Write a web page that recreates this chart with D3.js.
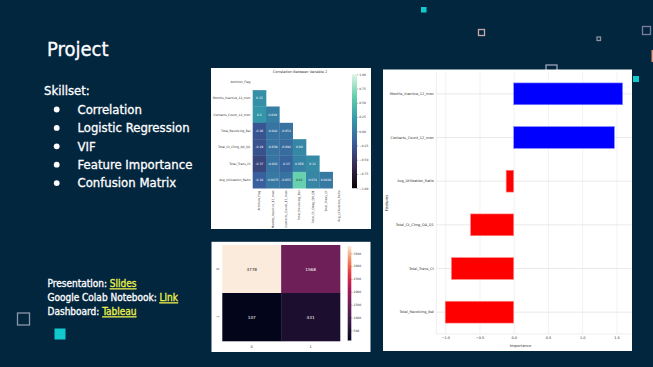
<!DOCTYPE html>
<html>
<head>
<meta charset="utf-8">
<script src="https://cdn.jsdelivr.net/npm/d3@7"></script>
<style>
body{margin:0;background:#03263f;overflow:hidden}
text{font-family:"DejaVu Sans",sans-serif}
.slide{font-family:"DejaVu Sans Condensed","Liberation Sans Narrow",sans-serif;fill:#fff;stroke:#fff;stroke-width:0.3}
.slide tspan.link{fill:#eef24a;stroke:#eef24a}
</style>
</head>
<body>
<div id="container"></div>
<script>
// slide text
const skills = ["Correlation","Logistic Regression","VIF","Feature Importance","Confusion Matrix"];
const linkLabels = ["Presentation: ","Google Colab Notebook: ","Dashboard: "];
const linkTexts = ["Slides","Link","Tableau"];

// correlation heatmap (lower triangle, row i has i values)
const corrVars = ["Attrition_Flag","Months_Inactive_12_mon","Contacts_Count_12_mon","Total_Revolving_Bal","Total_Ct_Chng_Q4_Q1","Total_Trans_Ct","Avg_Utilization_Ratio"];
const corrRows = [
  [],
  [0.15],
  [0.2,0.029],
  [-0.26,-0.042,-0.054],
  [-0.29,-0.039,-0.094,0.09],
  [-0.37,-0.043,-0.15,0.056,0.11],
  [-0.18,-0.0075,-0.055,0.62,0.074,0.0028]
];
const corrTicks = [1,0.75,0.5,0.25,0,-0.25,-0.5,-0.75,-1];

// confusion matrix
const cmLabels = ["0","1"];
const cmValues = [[3778,1568],[107,431]];
const cmTicks = [500,1000,1500,2000,2500,3000,3500];

// feature importance (bottom to top)
const features = ["Total_Revolving_Bal","Total_Trans_Ct","Total_Ct_Chng_Q4_Q1","Avg_Utilization_Ratio","Contacts_Count_12_mon","Months_Inactive_12_mon"];
const importance = [-1.0,-0.91,-0.63,-0.11,1.47,1.59];
const impTicks = [-1,-0.5,0,0.5,1,1.5];

const w = 653;
const h = 367;

var svg = d3.select("#container")
            .append("svg")
            .attr("width", w)
            .attr("height", h);

svg.append("rect").attr("width", w).attr("height", h).attr("fill", "#03263f");

// background decoration squares
const decor = [
  {x:421,y:7,s:5.5,fill:"#12c9cc"},
  {x:478.5,y:29.5,s:6,stroke:"#c9aaa6"},
  {x:597,y:37,s:3.5,stroke:"#8d8f9c"},
  {x:642.5,y:26.5,s:8,stroke:"#7b7f9c"},
  {x:546,y:65,s:11,stroke:"#9aa3b8"},
  {x:633,y:76,s:6,fill:"#12c9cc"},
  {x:17.5,y:313,s:12,stroke:"#8a96ab"},
  {x:54.5,y:328.5,s:11,fill:"#12c9cc"}
];
svg.selectAll("rect.decor")
   .data(decor)
   .enter()
   .append("rect")
   .attr("class","decor")
   .attr("x",d=>d.x).attr("y",d=>d.y)
   .attr("width",d=>d.s).attr("height",d=>d.s)
   .attr("fill",d=>d.fill||"none")
   .attr("stroke",d=>d.stroke||"none")
   .attr("stroke-width",1.3);
svg.append("rect").attr("x",651.5).attr("y",50).attr("width",2).attr("height",12).attr("fill","#e39c7d");

// left text block
svg.append("text").attr("class","slide").attr("x",47).attr("y",55.5)
   .attr("font-size",20).text("Project");
svg.append("text").attr("class","slide").attr("x",44).attr("y",94.5)
   .attr("font-size",13).text("Skillset:");

const skillY = d3.scalePoint().domain(skills).range([113.7,187.3]);
svg.selectAll("circle.bullet")
   .data(skills)
   .enter()
   .append("circle")
   .attr("cx",56.7)
   .attr("cy",d=>skillY(d)-4.2)
   .attr("r",2.9)
   .attr("fill","#fff");
svg.selectAll("text.skill")
   .data(skills)
   .enter()
   .append("text")
   .attr("class","slide skill")
   .attr("x",77.5)
   .attr("y",d=>skillY(d))
   .attr("font-size",13)
   .text(d=>d);

const linkY = d3.scalePoint().domain(linkLabels).range([287.3,315.3]);
linkLabels.forEach(function(l,i){
  var t = svg.append("text").attr("class","slide").attr("x",47.5).attr("y",linkY(l)).attr("font-size",10).attr("stroke-width",0.2);
  t.append("tspan").text(l);
  t.append("tspan").attr("class","link").attr("text-decoration","underline").text(linkTexts[i]);
});

// ---------- correlation heatmap ----------
svg.append("rect").attr("x",211).attr("y",68).attr("width",160).attr("height",161).attr("fill","#fff");

const mako = d3.scaleLinear()
               .domain([-1,-0.6,-0.2,0.2,0.6,1])
               .range(["#0b0405","#382a54","#395d9c","#3497a9","#60ceac","#def5e5"]);

const cx = d3.scaleBand().domain(corrVars).range([252.7,346]);
const cy = d3.scaleBand().domain(corrVars).range([73.8,188.2]);

var corrCells = [];
corrRows.forEach(function(r,i){ r.forEach(function(v,j){ corrCells.push({row:corrVars[i],col:corrVars[j],v:v}); }); });

svg.selectAll("rect.corr")
   .data(corrCells)
   .enter()
   .append("rect")
   .attr("class","corr")
   .attr("x",d=>cx(d.col))
   .attr("y",d=>cy(d.row))
   .attr("width",cx.bandwidth()+0.3)
   .attr("height",cy.bandwidth()+0.3)
   .attr("fill",d=>mako(d.v));

const fmtCorr = d3.format(".2~g");
svg.selectAll("text.corrv")
   .data(corrCells)
   .enter()
   .append("text")
   .attr("class","corrv")
   .attr("x",d=>cx(d.col)+cx.bandwidth()/2)
   .attr("y",d=>cy(d.row)+cy.bandwidth()/2+1)
   .attr("text-anchor","middle")
   .attr("font-size",3)
   .attr("fill",d=>d.v>0.5?"#262626":"#fff")
   .text(d=>fmtCorr(d.v).replace("−","-"));

svg.selectAll("text.corrrow")
   .data(corrVars)
   .enter()
   .append("text")
   .attr("class","corrrow")
   .attr("x",250.5)
   .attr("y",d=>cy(d)+cy.bandwidth()/2+1)
   .attr("text-anchor","end")
   .attr("font-size",3)
   .attr("fill","#333")
   .text(d=>d);

svg.selectAll("text.corrcol")
   .data(corrVars)
   .enter()
   .append("text")
   .attr("class","corrcol")
   .attr("transform",d=>"translate("+(cx(d)+cx.bandwidth()/2+1)+",190.5) rotate(-90)")
   .attr("text-anchor","end")
   .attr("font-size",3)
   .attr("fill","#333")
   .text(d=>d);

svg.append("text").attr("x",300).attr("y",73).attr("text-anchor","middle")
   .attr("font-size",3.5).attr("fill","#333").text("Correlation Between Variable 2");

// colorbar
var defs = svg.append("defs");
var g1 = defs.append("linearGradient").attr("id","makoGrad").attr("x1",0).attr("x2",0).attr("y1",1).attr("y2",0);
d3.range(0,1.001,0.05).forEach(function(t){
  g1.append("stop").attr("offset",t).attr("stop-color",mako(-1+2*t));
});
const cbY = d3.scaleLinear().domain([-1,1]).range([188.2,74.3]);
svg.append("rect").attr("x",352).attr("y",74.3).attr("width",5).attr("height",113.9).attr("fill","url(#makoGrad)");
svg.append("g")
   .attr("transform","translate(357,0)")
   .call(d3.axisRight(cbY).tickValues(corrTicks).tickFormat(d3.format(".2f")).tickSize(1.2).tickPadding(1))
   .call(g=>g.select(".domain").remove())
   .call(g=>g.selectAll("line").attr("stroke","#333").attr("stroke-width",0.4))
   .call(g=>g.selectAll("text").attr("font-size",3).attr("fill","#333").attr("font-family","DejaVu Sans"));

// ---------- confusion matrix ----------
svg.append("rect").attr("x",211.5).attr("y",241.8).attr("width",159).attr("height",110.2).attr("fill","#fff");

const cmMin = d3.min(cmValues.flat());
const cmMax = d3.max(cmValues.flat());
const rocketT = d3.scaleLinear()
                  .domain([0,0.2,0.4,0.55,0.7,0.82,0.92,1])
                  .range(["#03051a","#3b1a48","#701f57","#ad1759","#e13342","#f37651","#f6b48f","#faebdd"]);
const rocket = v=>rocketT((v-cmMin)/(cmMax-cmMin));

const mx = d3.scaleBand().domain(cmLabels).range([222.3,340]);
const my = d3.scaleBand().domain(cmLabels).range([245,341]);

var cmCells = [];
cmValues.forEach(function(r,i){ r.forEach(function(v,j){ cmCells.push({row:cmLabels[i],col:cmLabels[j],v:v}); }); });

svg.selectAll("rect.cm")
   .data(cmCells)
   .enter()
   .append("rect")
   .attr("class","cm")
   .attr("x",d=>mx(d.col))
   .attr("y",d=>my(d.row))
   .attr("width",mx.bandwidth()+0.3)
   .attr("height",my.bandwidth()+0.3)
   .attr("fill",d=>rocket(d.v));

svg.selectAll("text.cmv")
   .data(cmCells)
   .enter()
   .append("text")
   .attr("class","cmv")
   .attr("x",d=>mx(d.col)+mx.bandwidth()/2)
   .attr("y",d=>my(d.row)+my.bandwidth()/2+1.5)
   .attr("text-anchor","middle")
   .attr("font-size",4.2)
   .attr("fill",d=>(d.v-cmMin)/(cmMax-cmMin)>0.6?"#262626":"#fff")
   .text(d=>d.v);

svg.selectAll("text.cmrow")
   .data(cmLabels)
   .enter()
   .append("text")
   .attr("class","cmrow")
   .attr("transform",d=>"translate(218.5,"+(my(d)+my.bandwidth()/2)+") rotate(-90)")
   .attr("text-anchor","middle")
   .attr("font-size",3.5)
   .attr("fill","#333")
   .text(d=>d);
svg.selectAll("text.cmcol")
   .data(cmLabels)
   .enter()
   .append("text")
   .attr("class","cmcol")
   .attr("x",d=>mx(d)+mx.bandwidth()/2)
   .attr("y",348)
   .attr("text-anchor","middle")
   .attr("font-size",3.5)
   .attr("fill","#333")
   .text(d=>d);

var g2 = defs.append("linearGradient").attr("id","rocketGrad").attr("x1",0).attr("x2",0).attr("y1",1).attr("y2",0);
d3.range(0,1.001,0.05).forEach(function(t){
  g2.append("stop").attr("offset",t).attr("stop-color",rocketT(t));
});
const cmY = d3.scaleLinear().domain([cmMin,cmMax]).range([340.5,246]);
svg.append("rect").attr("x",347.7).attr("y",246).attr("width",3.6).attr("height",94.5).attr("fill","url(#rocketGrad)");
svg.append("g")
   .attr("transform","translate(351.3,0)")
   .call(d3.axisRight(cmY).tickValues(cmTicks).tickFormat(d3.format("d")).tickSize(1.2).tickPadding(1))
   .call(g=>g.select(".domain").remove())
   .call(g=>g.selectAll("line").attr("stroke","#333").attr("stroke-width",0.4))
   .call(g=>g.selectAll("text").attr("font-size",3).attr("fill","#333").attr("font-family","DejaVu Sans"));

// ---------- feature importance ----------
svg.append("rect").attr("x",383).attr("y",69.5).attr("width",249).attr("height",281.5).attr("fill","#fff");

const fx = d3.scaleLinear().domain([-1.13,1.72]).range([436.3,631.5]);
const fy = d3.scaleBand().domain(features.slice().reverse()).range([72,334]).paddingInner(0.5).paddingOuter(0.25);

// grid
svg.append("g")
   .attr("transform","translate(0,334)")
   .call(d3.axisBottom(fx).tickValues(impTicks).tickSize(-262).tickFormat(""))
   .call(g=>g.select(".domain").remove())
   .call(g=>g.selectAll("line").attr("stroke","#ebebeb").attr("stroke-width",0.6));
svg.append("g")
   .attr("transform","translate(436.3,0)")
   .call(d3.axisLeft(fy).tickSize(-195.2).tickFormat(""))
   .call(g=>g.select(".domain").remove())
   .call(g=>g.selectAll("line").attr("stroke","#dcdcdc").attr("stroke-width",0.6));

svg.append("line").attr("x1",436.3).attr("x2",436.3).attr("y1",72).attr("y2",334).attr("stroke","#e2e2e2").attr("stroke-width",0.6);
svg.append("line").attr("x1",436.3).attr("x2",631.5).attr("y1",334).attr("y2",334).attr("stroke","#e2e2e2").attr("stroke-width",0.6);

svg.selectAll("rect.imp")
   .data(features)
   .enter()
   .append("rect")
   .attr("class","imp")
   .attr("x",(d,i)=>fx(Math.min(0,importance[i])))
   .attr("y",d=>fy(d))
   .attr("width",(d,i)=>Math.abs(fx(importance[i])-fx(0)))
   .attr("height",fy.bandwidth())
   .attr("fill",(d,i)=>importance[i]>0?"#0000ff":"#ff0000")
   .attr("stroke",(d,i)=>importance[i]>0?"#8a8aff":"#ff8a8a")
   .attr("stroke-width",0.6);

svg.append("g")
   .attr("transform","translate(436.3,0)")
   .call(d3.axisLeft(fy).tickSize(0).tickPadding(2.5))
   .call(g=>g.select(".domain").remove())
   .call(g=>g.selectAll("text").attr("font-size",3.5).attr("fill","#333").attr("font-family","DejaVu Sans"));

svg.append("g")
   .attr("transform","translate(0,334)")
   .call(d3.axisBottom(fx).tickValues(impTicks).tickFormat(d3.format(".1f")).tickSize(0).tickPadding(3))
   .call(g=>g.select(".domain").remove())
   .call(g=>g.selectAll("text").attr("font-size",3.5).attr("fill","#333").attr("font-family","DejaVu Sans"));

svg.append("text").attr("x",fx(0.1)).attr("y",347).attr("text-anchor","middle")
   .attr("font-size",3.8).attr("fill","#333").text("Importance");
svg.append("text").attr("transform","translate(388,203) rotate(-90)").attr("text-anchor","middle")
   .attr("font-size",3.8).attr("fill","#333").text("Features");
</script>
</body>
</html>
